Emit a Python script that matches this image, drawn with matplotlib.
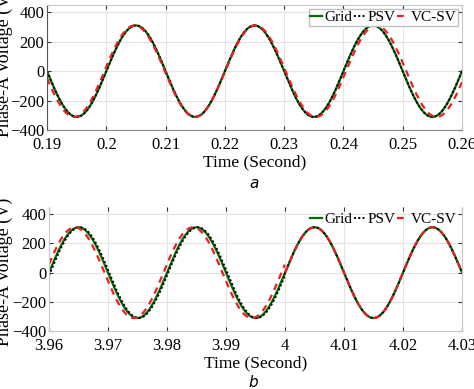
import numpy as np
import matplotlib.pyplot as plt

plt.rcParams['font.family'] = ['Liberation Serif', 'DejaVu Serif']

# signal parameters
amp = 311.0          # peak phase voltage (V)
f_grid = 50.0        # grid frequency (Hz)

# panel a: 0.19 s .. 0.26 s
t_a_range = (0.19, 0.26)
f_vcsv_a = 49.1      # VC-SV drifts slowly against the grid
t_sync_a = 0.217     # time where VC-SV and grid are in phase

# panel b: 3.96 s .. 4.03 s
t_b_range = (3.96, 4.03)
t_switch_b = 4.0     # instant where the sources lock to the grid
psv_lag_b = 0.0002   # PSV lag before the switch (s)
vcsv_lead_b = 0.0006 # VC-SV lead before the switch (s)

xticks_a = [0.19, 0.2, 0.21, 0.22, 0.23, 0.24, 0.25, 0.26]
xticklabels_a = ['0.19', '0.2', '0.21', '0.22', '0.23', '0.24', '0.25', '0.26']
xticks_b = [3.96, 3.97, 3.98, 3.99, 4.0, 4.01, 4.02, 4.03]
xticklabels_b = ['3.96', '3.97', '3.98', '3.99', '4', '4.01', '4.02', '4.03']
yticks = [-400, -200, 0, 200, 400]

# waveforms
t_a = np.linspace(*t_a_range, 2000)
grid_a = amp*np.sin(2*np.pi*f_grid*t_a)
psv_a = grid_a.copy()
vcsv_a = amp*np.sin(2*np.pi*f_vcsv_a*(t_a - t_sync_a) + 2*np.pi*f_grid*t_sync_a)

t_b = np.linspace(*t_b_range, 2001)
before = t_b < t_switch_b
grid_b = amp*np.sin(2*np.pi*f_grid*t_b)
psv_b = np.where(before, amp*np.sin(2*np.pi*f_grid*(t_b - psv_lag_b)), grid_b)
vcsv_b = np.where(before, amp*np.sin(2*np.pi*f_grid*(t_b + vcsv_lead_b)), grid_b)
# break the red line at the switch so the jump is visible
vcsv_b_pre = np.where(before, vcsv_b, np.nan)
vcsv_b_post = np.where(before, np.nan, vcsv_b)

fig = plt.figure(figsize=(4.74, 3.89), dpi=100)
ax1 = fig.add_axes([0.0992, 0.6658, 0.8755, 0.3213])
ax2 = fig.add_axes([0.1034, 0.1491, 0.8713, 0.3188])

green = '#006e00'
red = '#ee1c25'

def style(ax, xticks, xticklabels, xlim, ylab_x, ylab_y):
    ax.set_xlim(*xlim)
    ax.set_ylim(-400, 450)
    ax.set_xticks(xticks)
    ax.set_xticklabels(xticklabels)
    ax.set_yticks(yticks)
    ax.grid(True, color='#e3e3e3', linewidth=0.8)
    ax.set_axisbelow(True)
    ax.tick_params(direction='in', top=True, right=True, length=3,
                   labelsize=12, color='#333333')
    ax.tick_params(axis='x', pad=5)
    ax.tick_params(axis='y', pad=2)
    for s in ax.spines.values():
        s.set_color('#c8c8c8')
        s.set_linewidth(0.8)
    ax.spines['left'].set_color('#555555')
    ax.spines['bottom'].set_color('#888888')
    ax.set_xlabel('Time (Second)', fontsize=12.5, labelpad=1)
    ax.set_ylabel('Phase-A Voltage (V)', fontsize=13, labelpad=0)
    ax.yaxis.set_label_coords(ylab_x, ylab_y)

leg_kw = dict(loc='upper right', ncol=3, fontsize=11, handlelength=0.75,
              handletextpad=0.15, columnspacing=0.1, borderpad=0.12,
              borderaxespad=0.25)

# panel a
ax1.plot(t_a, grid_a, color=green, lw=1.6, label='Grid')
ax1.plot(t_a, psv_a, color='black', lw=1.4, ls=(0, (1, 1.2)), label='PSV')
ax1.plot(t_a, vcsv_a, color=red, lw=1.6, ls=(0, (3, 2.4)), label='VC-SV')
style(ax1, xticks_a, xticklabels_a, t_a_range, -0.082, 0.54)
ax1.legend(fancybox=False, framealpha=1, edgecolor='#c0c0c0', **leg_kw)

# panel b
ax2.plot(t_b, grid_b, color=green, lw=1.6, label='Grid')
ax2.plot(t_b, psv_b, color='black', lw=1.4, ls=(0, (1, 1.2)), label='PSV')
ax2.plot(t_b, vcsv_b_pre, color=red, lw=1.6, ls=(0, (3, 2.4)), label='VC-SV')
ax2.plot(t_b, vcsv_b_post, color=red, lw=1.6, ls=(0, (3, 2.4)))
style(ax2, xticks_b, xticklabels_b, t_b_range, -0.087, 0.48)
ax2.spines['left'].set_color('#c8c8c8')
ax2.spines['bottom'].set_color('#c8c8c8')
ax2.spines['top'].set_visible(False)
ax2.legend(frameon=False, **leg_kw)

fig.text(0.536, 0.528, 'a', fontsize=11, style='italic', family='DejaVu Sans',
         ha='center', va='center')
fig.text(0.534, 0.016, 'b', fontsize=11, style='italic', family='DejaVu Sans',
         ha='center', va='center')

fig.savefig('out.png', dpi=100)
